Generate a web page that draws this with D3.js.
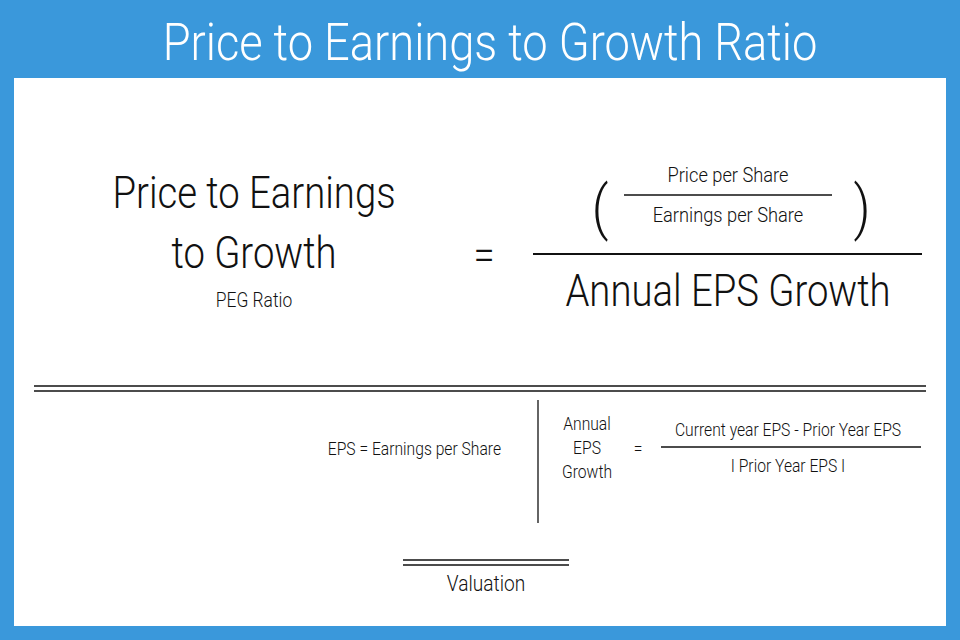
<!DOCTYPE html>
<html><head><meta charset="utf-8">
<script src="https://cdn.jsdelivr.net/npm/d3@7"></script>
<style>body{margin:0}svg text{font-family:"Roboto","Liberation Sans Narrow",sans-serif;font-weight:300;fill:#111}</style>
</head><body>
<script>
const title = ["Price to Earnings to Growth Ratio"];
const leftLabel = ["Price to Earnings", "to Growth"];
const leftSub = ["PEG Ratio"];
const innerFrac = ["Price per Share", "Earnings per Share"];
const denom = ["Annual EPS Growth"];
const epsDef = ["EPS  =  Earnings per Share"];
const growthLabel = ["Annual", "EPS", "Growth"];
const growthFrac = ["Current year EPS - Prior Year EPS", "I Prior Year EPS I"];
const footer = ["Valuation"];

const svg = d3.select("body").append("svg").attr("width",960).attr("height",640);
svg.append("rect").attr("width",960).attr("height",640).attr("fill","#3a98db");
svg.append("rect").attr("x",14).attr("y",78).attr("width",932).attr("height",548).attr("fill","#fff");
const t=(x,y,s,size,anchor="middle",fill="#111")=>svg.append("text").attr("transform",`translate(${x},${y}) scale(0.87,1)`).attr("font-size",size).attr("text-anchor",anchor).style("fill",fill).text(s);
const l=(x1,y1,x2,y2,w=1.3)=>svg.append("line").attr("x1",x1).attr("y1",y1).attr("x2",x2).attr("y2",y2).attr("stroke","#111").attr("stroke-width",w);

t(490,60,title[0],52,"middle","#fff");
const ly=d3.scalePoint().domain(leftLabel).range([208,268]);
leftLabel.forEach(s=>t(254,ly(s),s,44));
t(254,307,leftSub[0],20);
t(484,270,"=",44);
t(600,228,"(",60); t(862,228,")",60);
const fy=d3.scalePoint().domain(innerFrac).range([182,222]);
innerFrac.forEach(s=>t(728,fy(s),s,21));
l(624,195,832,195);
l(533,254,922,254,2);
t(728,306,denom[0],44);
l(34,386,926,386); l(34,391,926,391);
t(501,455,epsDef[0],18,"end");
l(538,400,538,523);
const gy=d3.scalePoint().domain(growthLabel).range([430,478]);
growthLabel.forEach(s=>t(587,gy(s),s,18));
t(638,455,"=",18);
t(788,436,growthFrac[0],18); t(788,472,growthFrac[1],18);
l(661,447,921,447);
l(403,560,569,560); l(403,565,569,565);
t(486,591,footer[0],22);
</script>
</body></html>
